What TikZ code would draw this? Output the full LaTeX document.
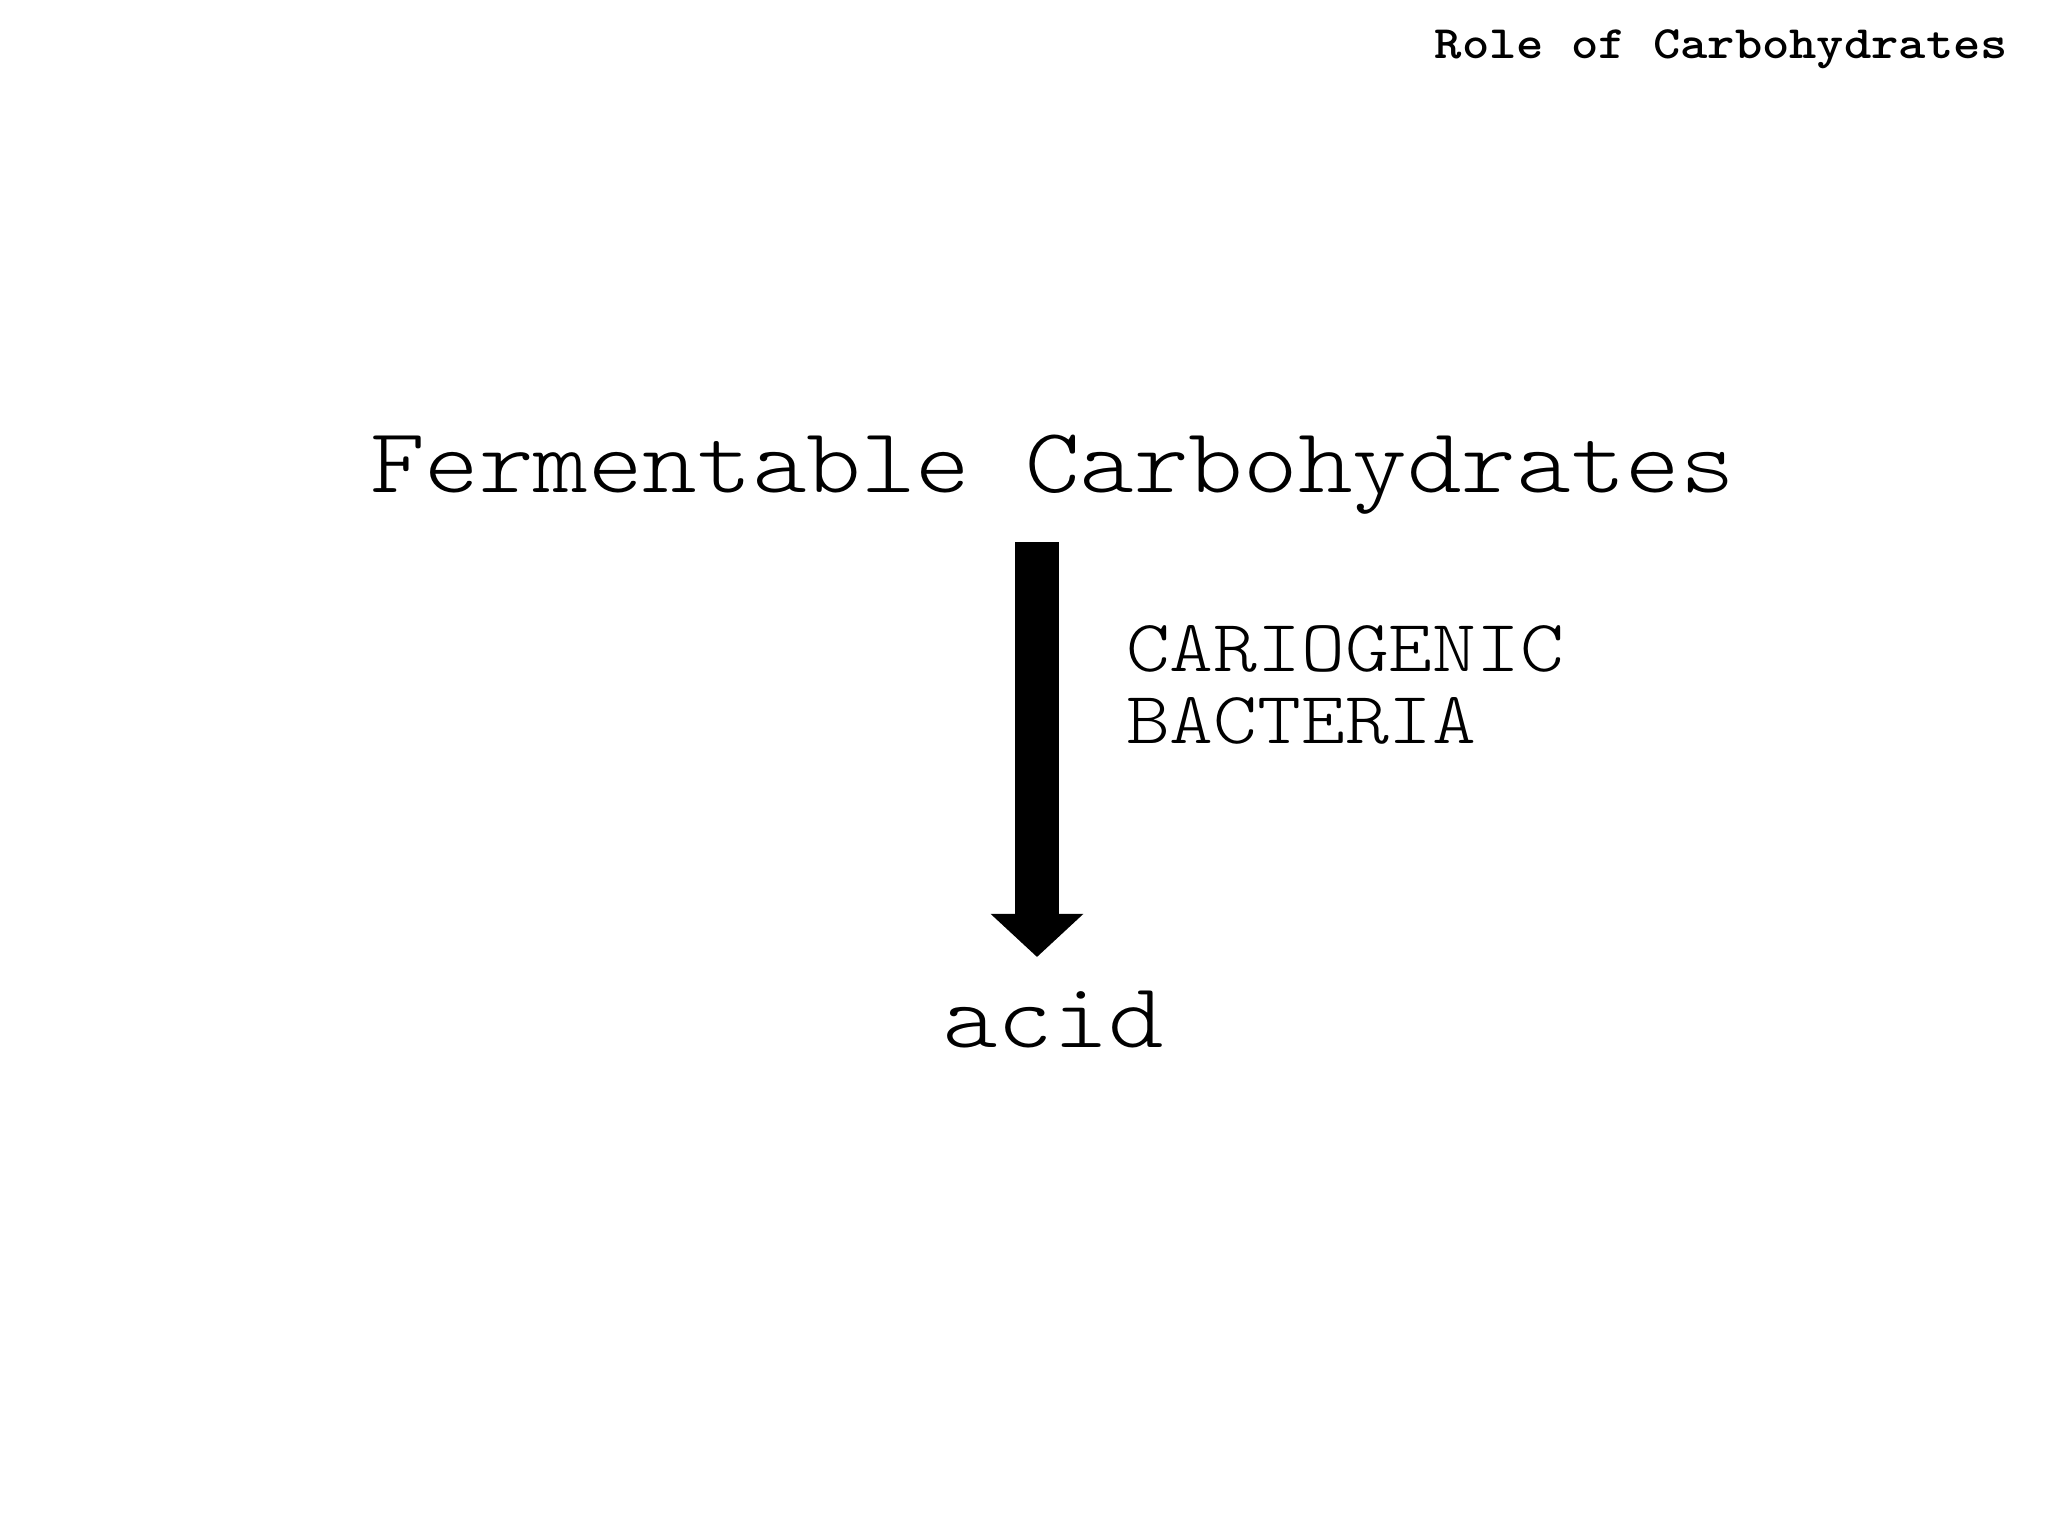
\documentclass[tikz,border=0pt]{standalone}
\usepackage{fontspec}
\newfontfamily\lmlight{lmmonolt10-regular}[Extension=.otf]
\usetikzlibrary{arrows.meta}
\tikzset{
  px/.style={x=0.01cm,y=-0.01cm},
  label/.style={inner sep=0pt,outer sep=0pt,xscale=1.13},
  bigarrow/.style={line width=0.44cm,-{Triangle[width=0.9cm,length=0.43cm]}}
}
\begin{document}
\begin{tikzpicture}[px]
\fill[white] (0,0) rectangle (2048,1536);
\useasboundingbox (0,0) rectangle (2048,1536);
\node[label,xscale=0.991,anchor=base east,font=\ttfamily\bfseries\fontsize{13.2}{16}\selectfont] (title) at (2008,58) {Role of Carbohydrates};
\node[label,xscale=0.995,anchor=base west,font=\lmlight\fontsize{26.3}{31}\selectfont] (ferm) at (370,492) {Fermentable Carbohydrates};
\node[label,anchor=base west,align=left,font=\lmlight\fontsize{21}{20.2}\selectfont] (bact) at (1126,743) {CARIOGENIC\\BACTERIA};
\node[label,xscale=1.01,anchor=base,font=\lmlight\fontsize{26.3}{31}\selectfont] (acid) at (1053,1047) {acid};
\coordinate (s) at (1037,542);
\coordinate (t) at (1037,957);
\draw[bigarrow] (s) -- (t);
\end{tikzpicture}
\end{document}
